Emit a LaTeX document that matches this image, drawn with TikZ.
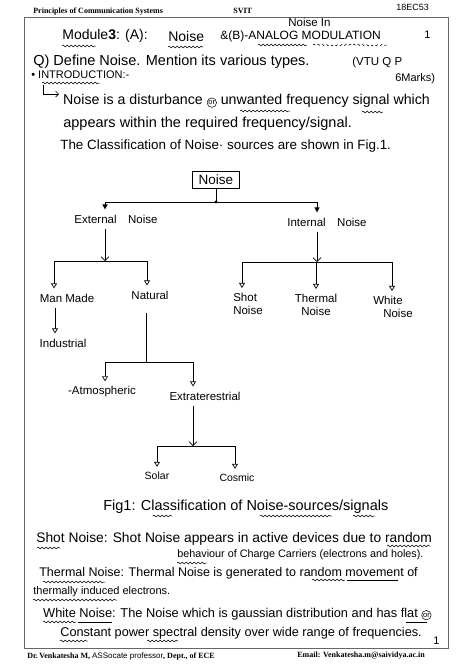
\documentclass[tikz,border=0pt]{standalone}
\usepackage{fontspec}
\setmainfont{Liberation Sans}
\newfontfamily\printfont{Liberation Serif}
\newfontfamily\handfont{Liberation Sans}
\usetikzlibrary{arrows.meta,decorations.pathmorphing,positioning}

\newcommand\orsign{\tikz[baseline=(orc.base)]\node[draw,circle,inner sep=0.6pt,line width=0.5pt,font=\fontsize{7.5}{7.5}\selectfont] (orc) {or};}

\begin{document}
\begin{tikzpicture}[x=1pt,y=-1pt,
    hand/.style={font=\handfont\fontsize{#1}{#1}\selectfont, inner sep=0pt, anchor=west},
    hand/.default=14,
    prn/.style={font=\printfont\bfseries\fontsize{8}{8}\selectfont, inner sep=0pt, anchor=west},
    leaf/.style={font=\handfont\fontsize{11.5}{13}\selectfont, inner xsep=1pt, inner ysep=5pt},
    box/.style={draw, line width=0.6pt, font=\handfont\fontsize{13.5}{13.5}\selectfont, minimum width=47, minimum height=17, inner sep=2pt},
    tipfill/.style={-{Triangle[length=5pt,width=5pt]}},
    tipbarb/.style={-{Straight Barb[length=4pt,width=8pt]}},
    tiptri/.style={-{Triangle[open,length=5pt,width=6pt]}},
    wavy/.style={decorate, decoration={snake, amplitude=0.9pt, segment length=4pt}, line width=0.5pt},
    uline/.style={line width=0.5pt},
    line width=0.7pt]
    \fill[white] (0,0) rectangle (474,670);
    \useasboundingbox (0,0) rectangle (474,670);

    % page header, frame and footer
    \node[prn] (hdrL) at (33,12) {Principles of Communication Systems};
    \node[prn] (hdrM) at (233,11) {SVIT};
    \node[hand=9] (hdrR) at (396,7) {18EC53};
    \draw[black!60, line width=1pt] (24,17) rectangle (448,648);
    \node[prn] (ftrL) at (27,656) {Dr.\,Venkatesha M, {\handfont\mdseries ASSocate professor}, Dept., of ECE};
    \node[prn] (ftrR) at (297,656) {Email: Venkatesha.m@saividya.ac.in};

    % title
    \node[hand=14] (ttlA) at (62,36) {Module\textbf{3}: (A):};
    \node[hand=14] (ttlB) at (168,36) {Noise};
    \node[hand=12] (ttlC) at (220,36) {\&(B)-ANALOG MODULATION};
    \node[hand=11.5] (ttlD) at (288,22) {Noise In};
    \node[hand=11] (pgtop) at (424,35) {1};
    \draw[wavy] (62,46) -- (96,46);
    \draw[wavy] (168,47) -- (203,47);
    \draw[wavy] (258,45) -- (307,45);
    \draw[wavy, dashed] (313,45) -- (387,45);

    % question and introduction
    \node[hand=14.5] (q1) at (33,62) {Q) Define Noise. Mention its various types.};
    \node[hand=11.5] (vtu) at (352,63) {(VTU Q P};
    \node[hand=11] (marks) at (395,79) {6Marks)};
    \node[hand=11] (intro) at (31,75) {\textbullet\ INTRODUCTION:-};
    \draw[wavy] (42,83) -- (100,83);
    \coordinate (hookA) at (43,85);
    \coordinate (hookB) at (59,94);
    \draw[-{Straight Barb[length=3pt,width=6pt]}] (hookA) |- (hookB);
    \node[hand=14.2] (def1) at (63,101) {Noise is a disturbance \orsign\ unwanted frequency signal which};
    \node[hand=14.5] (def2) at (63,124) {appears within the required frequency/signal.};
    \node[hand=13.4] (def3) at (60,146) {The Classification of Noise· sources are shown in Fig.1.};
    \draw[wavy] (240,111) -- (290,111);
    \draw[wavy] (362,112) -- (383,112);

    % classification tree
    \node[box] (noise) at (216,180) {Noise};
    \coordinate (jn0) at (216,202);
    \draw (noise) -- (jn0);
    \fill (jn0) circle (1.6);
    \node[leaf] (ext) at (116,219) {External\quad Noise};
    \node[leaf] (int) at (327,222) {Internal\quad Noise};
    \draw[tipfill] (jn0) -| ([xshift=-11pt]ext.north);
    \draw[tipfill] (jn0) -| ([xshift=-10pt]int.north);

    % external
    \coordinate (jn1) at (105,261);
    \draw[tipbarb] ([xshift=-11pt]ext.south) -- (jn1);
    \node[leaf] (manmade) at (67,298) {Man Made};
    \node[leaf] (natural) at (150,295) {Natural};
    \draw[tiptri] (jn1) -| ([xshift=-13pt]manmade.north);
    \draw[tiptri] (jn1) -| ([xshift=-3pt]natural.north);
    \node[leaf] (indus) at (63,343) {Industrial};
    \draw[tiptri] ([xshift=-12pt]manmade.south) -- ([xshift=-12pt]manmade.south |- indus.north);
    \coordinate (jn2) at (146,362);
    \draw ([shift={(-4pt,-8pt)}]natural.south) -- (jn2);
    \node[leaf] (atmos) at (102,392) {-Atmospheric};
    \node[leaf] (extra) at (205,396) {Extraterestrial};
    \draw[tiptri] (jn2) -| ([xshift=3pt]atmos.north);
    \draw[tiptri] (jn2) -| ([xshift=-12pt]extra.north);
    \coordinate (jn3) at (193,446);
    \draw[tipbarb] ([xshift=-12pt]extra.south) -- (jn3);
    \node[leaf, font=\handfont\fontsize{10.5}{12}\selectfont] (solar) at (157,476) {Solar};
    \node[leaf, font=\handfont\fontsize{10.5}{12}\selectfont] (cosmic) at (237,478) {Cosmic};
    \draw[tiptri] (jn3) -| (solar.north);
    \draw[tiptri] (jn3) -| ([xshift=-2pt]cosmic.north);

    % internal
    \coordinate (jn4) at (317,262);
    \draw[tipbarb] ([xshift=-10pt]int.south) -- (jn4);
    \node[leaf, align=left] (shot) at (248,304) {Shot\\Noise};
    \node[leaf, align=center] (thermal) at (316,305) {Thermal\\Noise};
    \node[leaf, align=left] (white) at (393,307) {White\\\hspace*{10pt}Noise};
    \draw[tiptri] (jn4) -| ([xshift=-6pt]shot.north);
    \draw[tiptri] (jn4) -| (thermal.north);
    \draw[tiptri] (jn4) -| ([xshift=-1pt]white.north);

    % caption and definitions
    \node[hand=14.5] (cap) at (103,507) {Fig1: Classification of Noise-sources/signals};
    \draw[wavy] (153,516) -- (172,516);
    \draw[wavy] (260,516) -- (332,516);
    \draw[wavy] (353,516) -- (375,516);
    \node[hand=13.8] (shot1) at (36,539) {Shot Noise: Shot Noise appears in active devices due to random};
    \node[hand=10.8] (shot2) at (177,555) {behaviour of Charge Carriers (electrons and holes).};
    \draw[wavy] (37,548) -- (60,548);
    \draw[wavy] (387,546) -- (430,546);
    \draw[wavy] (177,563) -- (207,563);
    \node[hand=12.5] (therm1) at (39,573) {Thermal Noise: Thermal Noise is generated to random movement of};
    \node[hand=11] (therm2) at (33,592) {thermally induced electrons.};
    \draw[wavy] (43,582) -- (105,582);
    \draw[wavy] (312,580) -- (345,580);
    \draw[uline] (347,580) -- (398,580);
    \draw[wavy] (33,600) -- (117,600);
    \node[hand=12.8] (white1) at (43,614) {White Noise: The Noise which is gaussian distribution and has flat \orsign};
    \node[hand=12.7] (white2) at (60,633) {Constant power spectral density over wide range of frequencies.};
    \draw[wavy] (43,622) -- (76,622);
    \draw[uline] (78,622) -- (112,622);
    \draw[uline] (406,622) -- (427,622);
    \draw[wavy] (60,641) -- (88,641);
    \draw[wavy] (147,641) -- (178,641);
    \node[hand=11] (pgbot) at (433,641) {1};
\end{tikzpicture}
\end{document}
